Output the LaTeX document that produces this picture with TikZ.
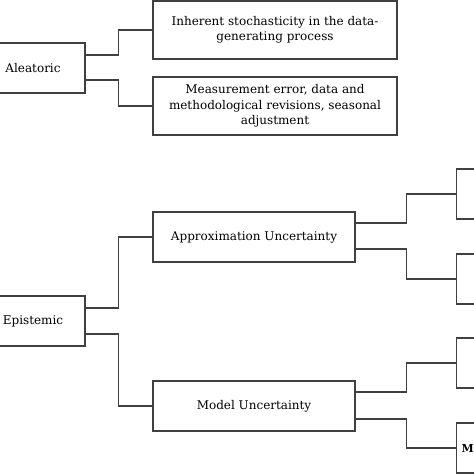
\documentclass[tikz,border=0pt]{standalone}
\usepackage{fontspec}
\setmainfont{DejaVu Serif}
\begin{document}
\begin{tikzpicture}[x=1pt,y=-1pt,font=\fontsize{12}{15.5}\selectfont]
            \useasboundingbox (0,0) rectangle (474,474);
            \clip (0,0) rectangle (474,474);
            \begin{scope}[every node/.style={rectangle,draw=black!75,line width=1.3pt,fill=white,align=center,inner sep=4pt,minimum height=50pt}]
                \node[minimum width=104pt] (ale) at (33,68) {Aleatoric};
                \node[minimum width=104pt] (epi) at (33,321) {Epistemic};
                \node[minimum width=244pt,minimum height=58pt] (inh) at (275,30) {Inherent stochasticity in the data-\\generating process};
                \node[minimum width=244pt,minimum height=58pt] (mea) at (275,106) {Measurement error, data and\\methodological revisions, seasonal\\adjustment};
                \node[minimum width=202pt] (app) at (254,237) {Approximation Uncertainty};
                \node[minimum width=202pt] (mod) at (254,406) {Model Uncertainty};
            \end{scope}
            \begin{scope}[every node/.style={rectangle,draw=black!75,line width=1.3pt,fill=white,anchor=west,minimum height=50pt,minimum width=100pt,text width=90pt,inner sep=5pt,align=left}]
                \node (app1) at (456,194) {};
                \node (app2) at (456,279) {};
                \node (mod1) at (456,363) {};
                \node (mod2) at (456,448) {\fontsize{11}{14}\selectfont\textbf{M}};
            \end{scope}
            \begin{scope}[black!75,line width=1.3pt]
                \draw ([yshift=13pt]ale.east) -- ++(33,0) |- (inh.west);
                \draw ([yshift=-12pt]ale.east) -- ++(33,0) |- (mea.west);
                \draw ([yshift=13pt]epi.east) -- ++(33,0) |- (app.west);
                \draw ([yshift=-13pt]epi.east) -- ++(33,0) |- (mod.west);
                \draw ([yshift=14pt]app.east) -- ++(51,0) |- (app1.west);
                \draw ([yshift=-12pt]app.east) -- ++(51,0) |- (app2.west);
                \draw ([yshift=14pt]mod.east) -- ++(51,0) |- (mod1.west);
                \draw ([yshift=-13pt]mod.east) -- ++(51,0) |- (mod2.west);
            \end{scope}
        \end{tikzpicture}
\end{document}
